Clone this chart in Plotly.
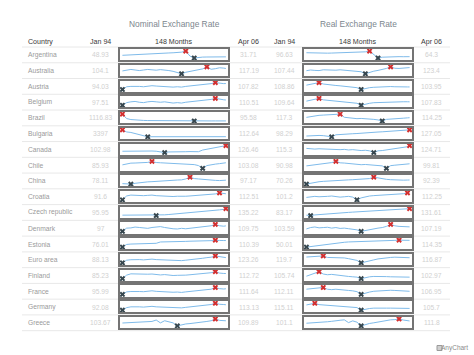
import plotly.graph_objects as go

# ---------------- data ----------------
countries = ["Argentina", "Australia", "Austria", "Belgium", "Brazil", "Bulgaria",
             "Canada", "Chile", "China", "Croatia", "Czech republic", "Denmark",
             "Estonia", "Euro area", "Finland", "France", "Germany", "Greece"]

# month index (0 = Jan 94, 147 = Apr 06)
months = [0, 6, 12, 18, 24, 30, 36, 42, 48, 54, 60, 66, 72, 78, 84, 90, 96,
          102, 108, 114, 120, 126, 132, 138, 144, 147]

titles = ["Nominal Exchange Rate", "Real Exchange Rate"]
header_labels = ["Country", "Jan 94", "148 Months", "Apr 06"]

argentina_nominal = [48.93, 52, 55, 57, 60, 62, 65, 67, 69, 71, 73, 75, 77, 80, 84, 96, 40, 19, 26, 29, 30, 31, 31, 32, 31.5, 31.71]
australia_nominal = [104.1, 108, 112, 109, 106, 109, 112, 110, 108, 111, 110, 106, 102, 97, 89, 97, 102, 106, 110, 115, 126, 113, 116, 121, 119, 117.19]
austria_nominal = [94.03, 100.4, 101.2, 102, 101.2, 100.4, 102, 102.8, 102, 101.2, 102, 100.4, 99.6, 100.4, 99.6, 101.2, 102, 102.8, 103.6, 105.2, 106.8, 107.6, 110, 108.4, 107.6, 107.82]
belgium_nominal = [97.51, 104, 106, 107, 105, 104, 106, 107, 106, 105, 106, 104, 103, 104, 103, 105, 106, 107, 107.5, 109, 111, 112, 114.6, 112, 111, 110.51]
brazil_nominal = [1116.83, 450, 300, 230, 190, 170, 150, 140, 130, 125, 120, 115, 112, 108, 105, 102, 99, 80, 90, 92, 94, 95, 96, 95, 96, 95.58]
bulgaria_nominal = [3397, 2400, 2150, 1600, 1000, 500, 60, 95, 100, 104, 106, 107, 108, 109, 110, 110, 111, 111, 112, 112, 112, 113, 112, 113, 112.5, 112.64]
canada_nominal = [102.98, 103.5, 104, 103.5, 104.5, 104, 103.5, 104, 103, 101, 97.5, 100, 101, 101.5, 102, 101, 101.5, 102, 101, 108, 111, 115, 117, 119, 123, 126.46]
chile_nominal = [85.93, 95, 100, 101, 102, 104, 106, 114.4, 105, 103, 101, 102, 98, 96, 94, 90, 92, 88, 80, 57.4, 80, 88, 92, 96, 100, 103.08]
china_nominal = [78.11, 77, 75.8, 80, 84, 86, 88, 89, 91, 93, 94, 95, 97, 98, 99, 104, 113.8, 106, 104, 101, 99, 97, 96, 95, 96, 97.17]
croatia_nominal = [91.6, 105, 108, 107, 108, 106, 107, 108, 106, 105, 106, 104, 103, 104, 103, 104, 105, 106, 107, 108, 109, 110, 112, 115.5, 112, 112.51]
czech_nominal = [95.95, 96, 95.5, 96, 95, 96, 95, 94.5, 93.4, 96, 98, 100, 102, 105, 107, 109, 111, 113, 116, 119, 122, 124, 126, 128, 131, 135.22]
denmark_nominal = [97, 104.5, 105, 107, 106, 105, 104, 106, 107, 108, 106, 104, 103, 102.5, 104, 103, 104, 105, 106, 108, 109, 110, 113.1, 110, 109, 109.75]
estonia_nominal = [76.01, 90, 92, 93, 94, 94, 95, 95, 96, 103, 103, 102.5, 103, 104, 105, 106, 107, 108, 108.5, 109, 110, 111, 112.3, 111, 110.5, 110.39]
euro_nominal = [88.13, 106, 109, 111, 110, 108, 111, 113, 110, 108, 109, 106, 104, 105, 103, 106, 108, 112, 115, 119, 123, 126, 134.3, 128, 125, 123.26]
finland_nominal = [85.23, 104, 111, 110, 107, 106, 109, 110, 106, 105, 107, 104, 102, 103, 102, 104, 106, 108, 109, 111, 114, 117, 122.4, 115, 113, 112.72]
france_nominal = [95.99, 103, 104, 105, 104, 103.5, 105, 106, 104.5, 103.5, 104, 103, 102, 102.5, 101.5, 103, 104, 105, 106, 107.5, 109, 110.5, 115.3, 112, 111, 111.64]
germany_nominal = [92.08, 102, 105, 106, 105, 104, 106, 107, 105, 104, 105, 103, 101, 102, 101, 103, 105, 107, 108, 110, 112, 114, 119.1, 115, 114, 113.13]
greece_nominal = [103.67, 104, 104.5, 105, 106, 107, 106.5, 108, 112, 104, 110, 106, 104, 95.5, 99, 101, 102, 103, 105, 106, 108, 110, 114.9, 111, 110, 109.89]

argentina_real = [96.63, 95, 94, 93, 92, 93, 94, 95, 96, 97, 98, 99, 100, 102, 104, 110.2, 80, 53.5, 60, 62, 63, 64, 64.5, 64, 64.5, 64.3]
australia_real = [107.44, 111, 109, 108, 112, 111, 113, 110, 112, 110, 109, 108, 106, 102, 91.8, 100, 105, 109, 113, 119, 127.3, 120, 119, 121, 124, 123.4]
austria_real = [108.86, 111, 113, 115.85, 112, 110, 109, 108, 107, 106, 105, 104, 102, 96.95, 100, 102, 103, 104, 104.5, 104, 105, 104.5, 105, 104.5, 104, 103.95]
belgium_real = [109.64, 112, 114, 116.9, 113, 112, 111, 110, 109, 108.5, 108, 106, 104, 98.8, 102, 104, 105.5, 106, 107, 107.5, 108, 108.5, 108, 108, 108, 107.83]
brazil_real = [117.3, 125, 132, 135, 137, 138, 140, 142, 145.5, 118, 112, 108, 106, 108, 107, 105, 100, 95, 85.5, 100, 104, 106, 108, 110, 113, 114.25]
bulgaria_real = [98.29, 100, 102, 101, 100, 98, 94.7, 104, 106, 107, 108, 109, 110, 112, 113, 114, 115, 117, 118, 119, 121, 122, 123, 124, 125, 127.05]
canada_real = [115.3, 114, 113, 114, 113, 112, 112.5, 112, 111, 112, 110, 111, 109, 108, 109, 107, 101.2, 107, 108, 110, 113, 115, 117, 119, 121, 124.71]
chile_real = [90.98, 93, 97, 99, 101, 103, 105, 110.1, 104, 103, 101, 100, 98, 96, 97, 95, 94, 93, 91, 80.7, 92, 94, 96, 97, 98, 99.81]
china_real = [70.26, 75, 80, 83, 85, 87, 89, 90, 91, 92, 93, 94, 95, 96, 98, 100, 107.8, 103, 100, 96, 94, 92, 91, 91.5, 92, 92.39]
croatia_real = [101.2, 103, 104, 103, 102.5, 104, 105, 103, 102, 103, 104, 102, 94.8, 100, 103, 105, 106, 106.5, 107, 108, 109, 109.5, 110, 111, 113.2, 112.25]
czech_real = [83.17, 80.1, 85, 88, 90, 92, 95, 97, 99, 101, 104, 106, 108, 110, 112, 114, 116, 118, 120, 122, 124, 126, 127, 128, 129, 131.61]
denmark_real = [103.59, 106, 107, 105.5, 106, 106.5, 105, 106, 104.5, 105, 104, 103, 102, 99.4, 101, 103, 104, 105, 106, 108, 111.4, 109, 108, 108, 107.5, 107.19]
estonia_real = [50.01, 55, 63, 70, 76, 81, 85, 89, 92, 96, 99, 101, 103, 105, 107, 108.5, 110, 111, 111.5, 112, 113, 114, 115.7, 115, 114.5, 114.35]
euro_real = [119.7, 121, 120, 122, 124, 118, 117, 119, 115, 116, 113, 110, 106, 96, 101, 104, 108, 112, 115, 117, 118, 119, 118, 118, 117.5, 116.87]
finland_real = [105.74, 110, 114, 118.7, 112, 110, 111, 109, 108, 106, 105, 104, 103, 98.7, 102, 104, 105, 105.5, 105, 104.5, 104, 104, 103.5, 103.5, 103, 102.97]
france_real = [112.11, 113, 114, 115, 116.4, 112, 111, 112, 111.5, 110, 109, 108, 106, 99.2, 103, 105, 107, 108, 109, 109.5, 109.5, 109, 108, 107.5, 107, 106.95]
germany_real = [115.11, 117, 119.8, 116, 115, 114, 113.5, 113, 112, 111, 110, 109, 108, 101, 104, 105.5, 106.5, 107, 107, 106.5, 106.5, 106, 106, 105.5, 105.5, 105.7]
greece_real = [101.1, 102, 104, 105, 106, 108, 110, 111, 115, 117, 104, 112, 106, 88.5, 96, 100, 103, 107, 111, 114, 117, 118, 120.9, 116, 113, 111.8]

nominal_series = [argentina_nominal, australia_nominal, austria_nominal, belgium_nominal,
                  brazil_nominal, bulgaria_nominal, canada_nominal, chile_nominal,
                  china_nominal, croatia_nominal, czech_nominal, denmark_nominal,
                  estonia_nominal, euro_nominal, finland_nominal, france_nominal,
                  germany_nominal, greece_nominal]
real_series = [argentina_real, australia_real, austria_real, belgium_real,
               brazil_real, bulgaria_real, canada_real, chile_real,
               china_real, croatia_real, czech_real, denmark_real,
               estonia_real, euro_real, finland_real, france_real,
               germany_real, greece_real]

# ---------------- styling / layout constants ----------------
W, H = 474, 355
FONT = "Liberation Sans, Arial, sans-serif"
LINE_COLOR = "#7fbbea"
MAX_COLOR = "#d32f2f"
MIN_COLOR = "#37474f"
BOX_COLOR = "#747474"
TITLE_COLOR = "#7c868e"
HEADER_COLOR = "#3a3a3a"
COUNTRY_COLOR = "#9a9a9a"
VALUE_COLOR = "#d0d0d0"
SEP_COLOR = "#e8e8e8"

ROW0 = 47.0       # top of first row band (px)
PITCH = 15.76     # row height (px)
BOX_H = 15.2      # outer box height
LW = 2            # box border width
# sparkline column domains (px, inside border)
SPARK_X = [(120.3, 228.0), (304.3, 411.7)]
COUNTRY_X = 26
JAN_X = [100.5, 284.0]
APR_X = [248.5, 431.5]
TITLE_X = [174.0, 358.0]
TITLE_Y = 23.5
HEADER_Y = 42.0


def fx(x):
    return x / W


def fy(y):
    return 1 - y / H


def fmt(v):
    return f"{v:g}"


fig = go.Figure()
layout = {}
annotations = []
shapes = []

k = 0
for i, country in enumerate(countries):
    top = ROW0 + i * PITCH
    yc = top + PITCH / 2
    dom_y = [fy(top + BOX_H - LW), fy(top + LW)]
    for j, series in enumerate([nominal_series[i], real_series[i]]):
        k += 1
        xa = "x" if k == 1 else f"x{k}"
        ya = "y" if k == 1 else f"y{k}"
        mx, mn = max(series), min(series)
        imax, imin = series.index(mx), series.index(mn)
        rng = mx - mn
        fig.add_trace(go.Scatter(x=months, y=series, mode="lines",
                                 line=dict(color=LINE_COLOR, width=1),
                                 xaxis=xa, yaxis=ya, hoverinfo="skip",
                                 showlegend=False))
        fig.add_trace(go.Scatter(x=[months[imin]], y=[mn], mode="markers",
                                 marker=dict(symbol="x", size=5, color=MIN_COLOR,
                                             line=dict(width=0)),
                                 xaxis=xa, yaxis=ya, cliponaxis=False,
                                 hoverinfo="skip", showlegend=False))
        fig.add_trace(go.Scatter(x=[months[imax]], y=[mx], mode="markers",
                                 marker=dict(symbol="x", size=5, color=MAX_COLOR,
                                             line=dict(width=0)),
                                 xaxis=xa, yaxis=ya, cliponaxis=False,
                                 hoverinfo="skip", showlegend=False))
        x0, x1 = SPARK_X[j]
        axis_common = dict(showgrid=False, zeroline=False, showticklabels=False,
                           ticks="", showline=True, mirror=True, linecolor=BOX_COLOR,
                           linewidth=LW, fixedrange=True)
        layout["xaxis" if k == 1 else f"xaxis{k}"] = dict(
            domain=[fx(x0), fx(x1)], range=[-3, 150],
            anchor=ya, **axis_common)
        layout["yaxis" if k == 1 else f"yaxis{k}"] = dict(
            domain=dom_y, range=[mn - 0.32 * rng, mx + 0.3 * rng],
            anchor=xa, **axis_common)

        # table values
        annotations.append(dict(x=fx(JAN_X[j]), y=fy(yc), xref="paper", yref="paper",
                                text=fmt(series[0]), showarrow=False,
                                xanchor="center", yanchor="middle",
                                font=dict(size=6.7, color=VALUE_COLOR, family=FONT)))
        annotations.append(dict(x=fx(APR_X[j]), y=fy(yc), xref="paper", yref="paper",
                                text=fmt(series[-1]), showarrow=False,
                                xanchor="center", yanchor="middle",
                                font=dict(size=6.7, color=VALUE_COLOR, family=FONT)))
    annotations.append(dict(x=fx(COUNTRY_X), y=fy(yc), xref="paper", yref="paper",
                            text=country, showarrow=False,
                            xanchor="left", yanchor="middle",
                            font=dict(size=6.7, color=COUNTRY_COLOR, family=FONT)))

# row separators
for i in range(len(countries) + 1):
    y = ROW0 + i * PITCH
    shapes.append(dict(type="line", xref="paper", yref="paper",
                       x0=fx(22), x1=fx(450), y0=fy(y), y1=fy(y),
                       line=dict(color=SEP_COLOR, width=1), layer="below"))

# titles and headers
for j in range(2):
    annotations.append(dict(x=fx(TITLE_X[j]), y=fy(TITLE_Y), xref="paper", yref="paper",
                            text=titles[j], showarrow=False, xanchor="center",
                            yanchor="middle",
                            font=dict(size=8.4, color=TITLE_COLOR, family=FONT)))
    for label, xc in [(header_labels[1], JAN_X[j]),
                      (header_labels[2], (SPARK_X[j][0] + SPARK_X[j][1]) / 2),
                      (header_labels[3], APR_X[j])]:
        annotations.append(dict(x=fx(xc), y=fy(HEADER_Y), xref="paper", yref="paper",
                                text=label, showarrow=False, xanchor="center",
                                yanchor="middle",
                                font=dict(size=7.1, color=HEADER_COLOR, family=FONT)))
annotations.append(dict(x=fx(COUNTRY_X), y=fy(HEADER_Y), xref="paper", yref="paper",
                        text=header_labels[0], showarrow=False, xanchor="left",
                        yanchor="middle",
                        font=dict(size=7.1, color=HEADER_COLOR, family=FONT)))

# watermark
annotations.append(dict(x=fx(470), y=fy(348), xref="paper", yref="paper",
                        text="AnyChart", showarrow=False, xanchor="right",
                        yanchor="middle",
                        font=dict(size=6.5, color="#8a8a8a", family=FONT)))
shapes.append(dict(type="rect", xref="paper", yref="paper",
                   x0=fx(437), x1=fx(442), y0=fy(350.5), y1=fy(345.5),
                   line=dict(color="#9a9a9a", width=1), fillcolor="#d0d0d0"))

fig.update_layout(width=W, height=H, margin=dict(l=0, r=0, t=0, b=0),
                  paper_bgcolor="white", plot_bgcolor="white",
                  showlegend=False, annotations=annotations, shapes=shapes,
                  **layout)

fig.write_html("out.html", config={"displayModeBar": False, "staticPlot": True},
               post_script="document.body.style.margin='0';")
